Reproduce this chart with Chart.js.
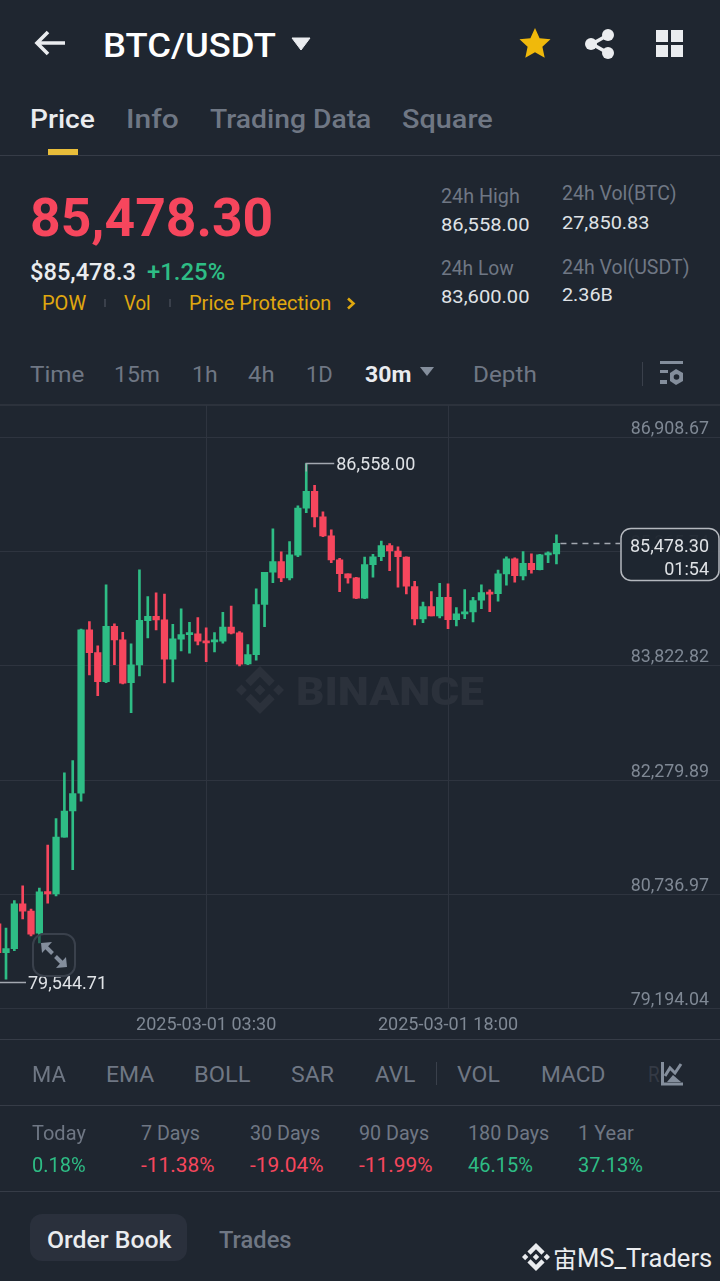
<!DOCTYPE html>
<html>
<head>
<meta charset="utf-8">
<title>BTC/USDT</title>
<script src="https://cdn.jsdelivr.net/npm/chart.js@4/dist/chart.umd.min.js"></script>
<style>
  html,body{margin:0;padding:0;background:#1f2630;width:720px;height:1281px;overflow:hidden;font-family:Roboto,sans-serif}
  #page{position:relative;width:720px;height:1281px;overflow:hidden}
  #kline{position:absolute;left:0;top:405px;width:720px;height:635px}
  .t{position:absolute;white-space:nowrap;transform-origin:left center}
  .rule{position:absolute;left:0;width:720px;height:1px;background:#363c47}
  svg{position:absolute;overflow:visible}
</style>
</head>
<body>
<div id="page">
  <div class="rule" style="top:155px"></div>
  <div class="rule" style="top:404px;height:2px;background:#2c323c"></div>
  <div class="rule" style="top:1039px"></div>
  <div class="rule" style="top:1105px"></div>
  <div class="rule" style="top:1191px"></div>
  <div style="position:absolute;left:48px;top:149px;width:30px;height:6px;background:#e8bd3a"></div>
  <div style="position:absolute;left:30px;top:1214px;width:157px;height:47px;border-radius:12px;background:#2a303c"></div>
  <div style="position:absolute;left:642px;top:362px;width:1px;height:24px;background:#3a404b"></div>
  <div style="position:absolute;left:436px;top:1062px;width:1px;height:23px;background:#3a404b"></div>

  <canvas id="kline" width="720" height="635"></canvas>

  <!-- back arrow -->
  <svg style="left:34px;top:30px" width="32" height="26" viewBox="0 0 32 26"><path d="M14 2 L3 13 L14 24 M3 13 H31" fill="none" stroke="#eaecef" stroke-width="3.6"/></svg>
  <!-- title caret -->
  <svg style="left:291px;top:37px" width="20" height="14" viewBox="0 0 20 14"><path d="M1 1 H19 L10 13 Z" fill="#eaecef" stroke="#eaecef" stroke-linejoin="round"/></svg>
  <!-- star -->
  <svg style="left:519px;top:27px" width="32" height="32" viewBox="0 0 32 32"><path d="M16 1 L20.6 11.2 L31.5 12.3 L23.4 19.8 L25.7 30.8 L16 25.2 L6.3 30.8 L8.6 19.8 L0.5 12.3 L11.4 11.2 Z" fill="#f0b90b"/></svg>
  <!-- share -->
  <svg style="left:584px;top:28px" width="32" height="32" viewBox="0 0 32 32"><path d="M24 7 L8 16 L24 25" fill="none" stroke="#eaecef" stroke-width="3.6"/><circle cx="24" cy="7" r="6" fill="#eaecef"/><circle cx="7" cy="16" r="6" fill="#eaecef"/><circle cx="24" cy="25" r="6" fill="#eaecef"/></svg>
  <!-- grid -->
  <svg style="left:656px;top:30px" width="28" height="28" viewBox="0 0 28 28" fill="#eaecef"><rect width="12" height="12"/><rect x="15" width="12" height="12"/><rect y="15" width="12" height="12"/><rect x="15" y="15" width="12" height="12"/></svg>
  <!-- interval caret -->
  <svg style="left:420px;top:367px" width="14" height="10" viewBox="0 0 14 10"><path d="M0 0 H14 L7 9 Z" fill="#848e9c"/></svg>
  <!-- chevron -->
  <svg style="left:346px;top:297px" width="10" height="13" viewBox="0 0 10 13"><path d="M2 1.5 L7.5 6.5 L2 11.5" fill="none" stroke="#e0a80f" stroke-width="2.6"/></svg>
  <!-- small dividers -->
  <div style="position:absolute;left:104px;top:299px;width:2px;height:8px;background:#3a404b"></div>
  <div style="position:absolute;left:169px;top:299px;width:2px;height:8px;background:#3a404b"></div>
  <!-- chart settings icon -->
  <svg style="left:660px;top:361px" width="24" height="26" viewBox="0 0 24 26" fill="#848e9c"><rect width="23" height="3"/><rect y="9" width="8" height="3"/><rect y="19" width="7" height="4"/><path d="M16 8 L23 12 V20 L16 24 L10 20 V12 Z"/><circle cx="16.500" cy="16" r="2.800" fill="#1f2630"/></svg>
  <!-- indicator icon -->
  <svg style="left:661px;top:1062px" width="22" height="24" viewBox="0 0 22 24"><path d="M1.500 0 V22 H22" fill="none" stroke="#848e9c" stroke-width="3"/><path d="M4 14 L9 6 L14 11 L20 2" fill="none" stroke="#848e9c" stroke-width="3"/><path d="M6 20 L12 13 L20 20 Z" fill="#848e9c"/></svg>
  <!-- fullscreen button -->
  <svg style="left:32px;top:933px" width="44" height="44" viewBox="0 0 44 44"><rect x="1" y="1" width="42" height="42" rx="11" fill="#1f2630" fill-opacity="0.55" stroke="#3a414c" stroke-width="2"/><path d="M9 10 L20 9 L10 20 Z M35 34 L24 35 L34 24 Z" fill="#848e9c"/><path d="M14 14 L20.500 20.500 M23.500 23.500 L30 30" stroke="#848e9c" stroke-width="4"/></svg>
  <!-- bottom-right mark -->
  <svg style="left:522px;top:1243px" width="28" height="28" viewBox="0 0 126.61 126.61" fill="#eaecef"><path d="M38.73 53.2 63.3 28.63 87.89 53.22 102.19 38.92 63.3 0 24.42 38.9ZM0 63.3 14.3 49 28.6 63.3 14.3 77.6ZM38.73 73.41 63.3 97.98 87.89 73.39 102.2 87.69 63.3 126.61 24.42 87.71ZM98 63.3 112.3 49 126.61 63.3 112.3 77.6ZM63.3 48.8 77.8 63.3 63.3 77.8 48.8 63.3Z"/></svg>
</div>

<script>
// candle index 0 is off the left edge, its low is the 79,544.71 label
const opens = [80000,80337,79950,80004,80608,80509,80212,80774,80743,81509,81864,82103,84309,84003,83611,84359,84174,83597,83837,84435,84494,84444,83914,84184,84246,84255,84161,84147,84157,84346,84269,83850,83976,84654,85089,85232,85012,85319,85954,86183,85836,85579,85255,85066,85012,84738,85192,85300,85448,85373,85292,84894,84458,84624,84499,84751,84449,84526,84553,84711,84819,84800,85066,85269,85039,85210,85124,85323,85336];
const highs = [80400,80391,80279,80652,80851,80536,80820,81401,81760,82377,82544,84319,84421,84093,84917,84390,84278,84120,85120,84759,84809,84792,84386,84593,84413,84476,84336,84273,84548,84630,84286,84111,84863,85086,85674,85363,85502,85985,86558,86264,85904,85660,85278,85066,85021,85292,85332,85508,85475,85431,85296,84967,84684,84827,84940,84931,84611,84854,84751,84917,84850,85116,85296,85282,85367,85336,85332,85363,85593];
const lows = [79544.71,79905,79590,79977,80405,80175,80081,80617,80716,81509,81071,81995,83701,83422,83597,83841,83580,83192,83688,84201,84309,83593,83607,84026,83995,84107,83881,84012,84130,84255,83823,83841,83900,84354,84948,84962,84985,85300,85894,85701,85570,85219,84827,84940,84732,84732,85021,85246,85111,84886,84796,84377,84408,84499,84471,84327,84363,84462,84417,84597,84557,84697,84913,84954,84985,85075,85120,85219,85201];
const closes = [80300,79950,80004,80608,80509,80198,80770,80743,81509,81860,82098,84309,84003,83611,84359,84174,83589,83837,84440,84494,84444,83914,84188,84246,84269,84157,84134,84174,84346,84265,83846,83976,84651,85086,85232,85012,85323,85954,86183,85836,85579,85255,85070,85012,84738,85192,85296,85448,85377,85300,84900,84458,84624,84499,84751,84449,84526,84553,84705,84813,84792,85066,85269,85043,85210,85124,85323,85350,85478.3];
const tickSlots = [26, 55];
const tickTimes = ['2025-03-01 03:30', '2025-03-01 18:00'];
const priceTicks = [86908.67, 85365.74, 83822.82, 82279.89, 80736.97, 79194.04];
const highLabel = '86,558.00';
const lowLabel = '79,544.71';
const lastLabel = '85,478.30';
const countdown = '01:54';

const UP = '#2ebd85', DOWN = '#f6465d', GRID = '#2e343f', MUTED = '#7f8894', LIGHT = '#dfe2e6';
const FONT = 'Roboto, sans-serif';
const logo = new Path2D('M38.73 53.2 63.3 28.63 87.89 53.22 102.19 38.92 63.3 0 24.42 38.9ZM0 63.3 14.3 49 28.6 63.3 14.3 77.6ZM38.73 73.41 63.3 97.98 87.89 73.39 102.2 87.69 63.3 126.61 24.42 87.71ZM98 63.3 112.3 49 126.61 63.3 112.3 77.6ZM63.3 48.8 77.8 63.3 63.3 77.8 48.8 63.3Z');

const slots = opens.map((_, i) => i);
const colors = slots.map(i => closes[i] >= opens[i] ? UP : DOWN);

// text on the page, squeezed to the width it has in the screenshot
function put(text, x, cy, size, color, weight, w){
  const el = document.createElement('div');
  el.className = 't';
  el.textContent = text;
  el.style.cssText = `left:${x}px;top:${cy - size/2 - 1}px;font-size:${size}px;line-height:${size + 2}px;color:${color};font-weight:${weight||400}`;
  document.getElementById('page').appendChild(el);
  if(w) el.style.transform = `scaleX(${w / el.offsetWidth})`;
  return el;
}

const GREY = '#6f7784', WHITE = '#eaecef', GOLD = '#e0a80f';
put('BTC/USDT', 103, 45, 33, '#fff', 500, 173);
put('Price', 30, 119, 26, WHITE, 500, 65);
put('Info', 126, 119, 26, GREY, 500, 53);
put('Trading Data', 210, 119, 26, GREY, 500, 161);
put('Square', 402, 119, 26, GREY, 500, 91);
put('85,478.30', 30, 218, 53, DOWN, 700, 243);
put('$85,478.3', 30, 272, 23, WHITE, 500, 106);
put('+1.25%', 147, 272, 23, UP, 500, 78);
put('POW', 42, 303, 20, GOLD, 400, 44);
put('Vol', 124, 303, 20, GOLD, 400, 27);
put('Price Protection', 189, 303, 20, GOLD, 400, 142);
put('24h High', 441, 196, 20, GREY, 400, 79);
put('86,558.00', 441, 224, 19, LIGHT, 400, 89);
put('24h Low', 441, 268, 20, GREY, 400, 73);
put('83,600.00', 441, 296, 19, LIGHT, 400, 89);
put('24h Vol(BTC)', 562, 193, 20, GREY, 400, 114);
put('27,850.83', 562, 222, 19, LIGHT, 400, 88);
put('24h Vol(USDT)', 562, 267, 20, GREY, 400, 127);
put('2.36B', 562, 294, 19, LIGHT, 400, 51);
put('Time', 30, 375, 22, GREY, 400, 54);
put('15m', 114, 375, 22, GREY, 400, 46);
put('1h', 192, 375, 22, GREY, 400, 25);
put('4h', 248, 375, 22, GREY, 400, 26);
put('1D', 306, 375, 22, GREY, 400, 27);
put('30m', 365, 375, 22, WHITE, 700, 46);
put('Depth', 473, 375, 22, GREY, 400, 64);
put('MA', 32, 1075, 22, GREY, 400, 34);
put('EMA', 106, 1075, 22, GREY, 400, 48);
put('BOLL', 194, 1075, 22, GREY, 400, 57);
put('SAR', 291, 1075, 22, GREY, 400, 43);
put('AVL', 375, 1075, 22, GREY, 400, 40);
put('VOL', 457, 1075, 22, GREY, 400, 43);
put('MACD', 541, 1075, 22, GREY, 400, 64);
put('R', 648, 1075, 22, '#343a45', 400, 12);
put('Today', 32, 1133, 20, GREY, 400, 54);
put('7 Days', 141, 1133, 20, GREY, 400, 59);
put('30 Days', 250, 1133, 20, GREY, 400, 70);
put('90 Days', 359, 1133, 20, GREY, 400, 70);
put('180 Days', 468, 1133, 20, GREY, 400, 81);
put('1 Year', 578, 1133, 20, GREY, 400, 56);
put('0.18%', 32, 1165, 20, UP, 400, 54);
put('-11.38%', 141, 1165, 20, DOWN, 400, 73);
put('-19.04%', 250, 1165, 20, DOWN, 400, 73);
put('-11.99%', 359, 1165, 20, DOWN, 400, 73);
put('46.15%', 468, 1165, 20, UP, 400, 65);
put('37.13%', 578, 1165, 20, UP, 400, 65);
put('Order Book', 47, 1240, 24, WHITE, 500, 125);
put('Trades', 219, 1240, 24, GREY, 500, 73);
put('宙', 553, 1258, 24, WHITE, 400, 24).style.fontFamily = '"Noto Sans CJK SC"';
put('MS_Traders', 577, 1258, 25, WHITE, 400, 135);

// watermark under the candles
const watermark = {
  id: 'watermark',
  beforeDatasetsDraw(chart){
    const c = chart.ctx;
    c.save();
    c.fillStyle = '#2b313b';
    c.translate(236, 261);
    c.scale(48 / 126.61, 48 / 126.61);
    c.fill(logo);
    c.restore();
    c.save();
    c.fillStyle = '#2b313b';
    c.font = `900 38px ${FONT}`;
    c.textBaseline = 'middle';
    const w = c.measureText('BINANCE').width;
    c.translate(296, 290);
    c.scale(188 / w, 1);
    c.fillText('BINANCE', 0, 0);
    c.restore();
  }
};

// high, low and last price marks
const priceMarks = {
  id: 'priceMarks',
  afterDraw(chart){
    const c = chart.ctx, x = chart.scales.x, y = chart.scales.y;
    const last = slots.length - 1;
    const hi = highs.indexOf(Math.max(...highs));
    const hx = x.getPixelForValue(hi), hy = y.getPixelForValue(highs[hi]);
    const lx = x.getPixelForValue(0), ly = y.getPixelForValue(lows[0]);
    const py = y.getPixelForValue(closes[last]);

    c.save();
    c.font = `18px ${FONT}`;
    c.textBaseline = 'middle';
    c.strokeStyle = '#a3a8b0';
    c.lineWidth = 1.5;
    c.beginPath();
    c.moveTo(hx, hy + 8); c.lineTo(hx, hy); c.lineTo(hx + 28, hy);
    c.moveTo(Math.max(lx, 0), ly); c.lineTo(26, ly);
    c.stroke();

    c.fillStyle = LIGHT;
    c.fillText(highLabel, hx + 30, hy + 2);
    c.fillText(lowLabel, 28, ly + 2);

    c.setLineDash([6, 5]);
    c.beginPath();
    c.moveTo(x.getPixelForValue(last) + 4, py); c.lineTo(620, py);
    c.stroke();
    c.setLineDash([]);

    c.beginPath();
    c.roundRect(621, py - 15, 98, 52, 10);
    c.fillStyle = 'rgba(31,38,48,0.94)';
    c.fill();
    c.strokeStyle = '#b4b8be';
    c.stroke();
    c.fillStyle = LIGHT;
    c.textAlign = 'right';
    c.fillText(lastLabel, 709, py + 4);
    c.fillText(countdown, 709, py + 27);
    c.restore();
  }
};

new Chart(document.getElementById('kline'), {
  type: 'bar',
  data: {
    datasets: [
      { data: slots.map(i => ({ x: i, y: [closes[i], opens[i]] })), backgroundColor: colors, barThickness: 6.6, minBarLength: 2, order: 1 },
      { data: slots.map(i => ({ x: i, y: [lows[i], highs[i]] })), backgroundColor: colors, barThickness: 2, order: 2 }
    ]
  },
  options: {
    responsive: false,
    animation: false,
    layout: { padding: 0, autoPadding: false },
    datasets: { bar: { grouped: false } },
    plugins: { legend: { display: false }, tooltip: { enabled: false } },
    scales: {
      x: {
        type: 'linear',
        offset: false,
        min: 1.28,
        max: 87.61,
        afterBuildTicks(s){ s.ticks = tickSlots.map(v => ({ value: v })); },
        afterFit(s){ s.height = 31.5; s.paddingLeft = 0; s.paddingRight = 0; },
        grid: { color: GRID, drawTicks: false, offset: false },
        border: { display: false },
        ticks: {
          autoSkip: false, maxRotation: 0, padding: 6,
          color: MUTED, font: { family: FONT, size: 18 },
          callback: v => tickTimes[tickSlots.indexOf(v)]
        }
      },
      y: {
        position: 'right',
        min: 79194.04,
        max: 87348,
        afterBuildTicks(s){ s.ticks = priceTicks.map(v => ({ value: v })); },
        afterFit(s){ s.width = 0; s.paddingTop = 0; s.paddingBottom = 0; },
        grid: { color: GRID, drawTicks: false },
        border: { display: false },
        ticks: {
          // axis has no width, so a negative padding pulls the labels back inside
          mirror: true, padding: -11, labelOffset: -8,
          color: MUTED, font: { family: FONT, size: 17.8 },
          callback: v => v.toLocaleString('en-US', { minimumFractionDigits: 2 })
        }
      }
    }
  },
  plugins: [watermark, priceMarks]
});
</script>
</body>
</html>
